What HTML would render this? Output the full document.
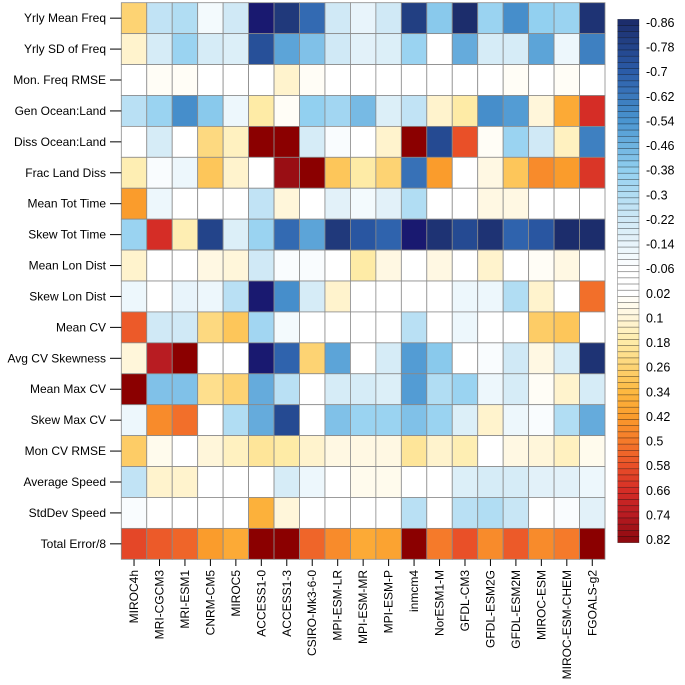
<!DOCTYPE html>
<html><head><meta charset="utf-8"><style>
html,body{margin:0;padding:0;background:#fff;}
svg{display:block;font-family:"Liberation Sans",sans-serif;}
</style></head><body>
<svg id="chart" width="685" height="685" viewBox="0 0 685 685" xmlns="http://www.w3.org/2000/svg"></svg>
<script>
const rowLabels=["Yrly Mean Freq","Yrly SD of Freq","Mon. Freq RMSE","Gen Ocean:Land","Diss Ocean:Land","Frac Land Diss","Mean Tot Time","Skew Tot Time","Mean Lon Dist","Skew Lon Dist","Mean CV","Avg CV Skewness","Mean Max CV","Skew Max CV","Mon CV RMSE","Average Speed","StdDev Speed","Total Error/8"];
const colLabels=["MIROC4h","MRI-CGCM3","MRI-ESM1","CNRM-CM5","MIROC5","ACCESS1-0","ACCESS1-3","CSIRO-Mk3-6-0","MPI-ESM-LR","MPI-ESM-MR","MPI-ESM-P","inmcm4","NorESM1-M","GFDL-CM3","GFDL-ESM2G","GFDL-ESM2M","MIROC-ESM","MIROC-ESM-CHEM","FGOALS-g2"];
const r1=[0.26,-0.26,-0.3,-0.1,-0.22,-0.95,-0.82,-0.66,-0.22,-0.14,-0.22,-0.8,-0.4,-0.86,-0.36,-0.56,-0.38,-0.36,-0.84];
const r2=[0.12,-0.2,-0.36,-0.2,-0.18,-0.74,-0.5,-0.42,-0.22,-0.16,-0.18,-0.36,0,-0.48,-0.2,-0.2,-0.5,-0.12,-0.6];
const r3=[0,0.04,0.04,0,0,0,0.12,0.04,0,0,0,0,0,0,0,0.04,0,0.04,0];
const r4=[-0.28,-0.36,-0.56,-0.4,-0.12,0.18,0.04,-0.38,-0.34,-0.44,-0.18,-0.26,0.12,0.18,-0.56,-0.52,0.1,0.38,0.66];
const r5=[0,-0.2,0,0.24,0.14,0.9,0.9,-0.2,-0.08,0,0.12,0.9,-0.76,0.58,0.04,-0.36,-0.22,0.14,-0.6];
const r6=[0.16,-0.08,-0.12,0.3,0.12,0,0.8,0.9,0.3,0.18,0.26,-0.64,0.42,0,0.08,0.3,0.46,0.42,0.64];
const r7=[0.42,-0.12,0,0,0.02,-0.26,0.1,0,-0.16,-0.1,-0.16,-0.3,0,0,0.08,0.08,0,0,0];
const r8=[-0.36,0.66,0.16,-0.78,-0.18,-0.36,-0.66,-0.5,-0.82,-0.72,-0.68,-0.95,-0.84,-0.76,-0.84,-0.68,-0.72,-0.86,-0.86];
const r9=[0.12,0,0,0.08,0.1,-0.22,-0.08,-0.08,0.02,0.18,0.08,0,0.08,0,0.12,0,0.04,0.08,0];
const r10=[-0.12,0,-0.14,-0.12,-0.28,-0.95,-0.56,-0.2,0.12,0,0,0,0,-0.12,-0.12,-0.3,0.12,0,0.52];
const r11=[0.56,-0.22,-0.22,0.24,0.3,-0.34,-0.1,0,0,0,0,-0.28,0,-0.12,0.02,0,0.28,0.3,0];
const r12=[0.1,0.74,0.9,0,0,-0.95,-0.68,0.26,-0.5,0,-0.2,-0.52,-0.4,0,-0.08,-0.22,0.08,-0.2,-0.84];
const r13=[0.9,-0.42,-0.42,0.22,0.26,-0.48,-0.28,0,-0.2,-0.2,-0.18,-0.52,-0.3,-0.36,-0.12,-0.2,0.04,0.12,-0.2];
const r14=[-0.12,0.46,0.52,0,-0.3,-0.48,-0.76,0,-0.42,-0.36,-0.36,-0.42,-0.36,-0.18,0.12,-0.12,-0.08,-0.3,-0.48];
const r15=[0.28,0.06,0,0.1,0.14,0.2,0.18,0.12,0.08,0.08,0.08,0.2,0.12,0.16,0.02,0.08,0.1,0.14,0.06];
const r16=[-0.26,0.12,0.12,0,0,0,-0.2,-0.12,0.02,0.06,0.06,0,0,-0.18,-0.2,-0.2,-0.16,-0.16,-0.12];
const r17=[-0.08,0,0,0,0,0.36,0.1,0,0,0,0,-0.28,0,-0.28,-0.3,-0.24,0,-0.08,-0.16];
const r18=[0.6,0.56,0.54,0.42,0.38,0.9,0.9,0.54,0.46,0.38,0.4,0.9,0.5,0.58,0.46,0.56,0.46,0.5,0.9];
const values=[r1,r2,r3,r4,r5,r6,r7,r8,r9,r10,r11,r12,r13,r14,r15,r16,r17,r18];
const barTicks=["-0.86","-0.78","-0.7","-0.62","-0.54","-0.46","-0.38","-0.3","-0.22","-0.14","-0.06","0.02","0.1","0.18","0.26","0.34","0.42","0.5","0.58","0.66","0.74","0.82"];

const stops=[[-0.86,"#1c2d6c"],[-0.7,"#2b5ca8"],[-0.54,"#4a95d0"],[-0.38,"#92d0f0"],[-0.22,"#d0e9f6"],[-0.06,"#ffffff"],[0.02,"#ffffff"],[0.1,"#fff6da"],[0.18,"#feeba6"],[0.26,"#fdd373"],[0.34,"#fdb840"],[0.42,"#fa9c2c"],[0.5,"#f57a2a"],[0.58,"#e95028"],[0.66,"#d52d26"],[0.74,"#b81c22"],[0.82,"#8f0a10"]];
function hex(h){return [parseInt(h.substr(1,2),16),parseInt(h.substr(3,2),16),parseInt(h.substr(5,2),16)];}
function color(v){
  if(v<-0.87) return "#191970";
  if(v>0.83) return "#8b0000";
  if(v<=stops[0][0]) return stops[0][1];
  for(let i=1;i<stops.length;i++){
    if(v<=stops[i][0]){
      const a=hex(stops[i-1][1]),b=hex(stops[i][1]);const t=(v-stops[i-1][0])/(stops[i][0]-stops[i-1][0]);
      return "rgb("+a.map((x,k)=>Math.round(x+(b[k]-x)*t)).join(",")+")";
    }
  }
  return stops[stops.length-1][1];
}
const NS="http://www.w3.org/2000/svg";
const svg=document.getElementById("chart");
function mk(tag,attrs,parent){const e=document.createElementNS(NS,tag);for(const k in attrs)e.setAttribute(k,attrs[k]);(parent||svg).appendChild(e);return e;}
const X0=121.3,Y0=2.7,CW=(605-121.3)/19,RH=(559.3-2.7)/18;
function xPos(c){return X0+c*CW;}
function yPos(r){return Y0+r*RH;}

const cells=mk("g",{});


values.forEach((row,r)=>row.forEach((v,c)=>{
  const rc=mk("rect",{x:xPos(c),y:yPos(r),width:CW,height:RH,fill:color(v),stroke:"#8a8a8a","stroke-width":0.8},cells);
  
  
}));
const yax=mk("g",{"font-size":"12",fill:"#000"});


rowLabels.forEach((l,r)=>{
  const cy=yPos(r)+RH/2;
  mk("line",{x1:110,x2:X0,y1:cy,y2:cy,stroke:"#000","stroke-width":1},yax);
  const t=mk("text",{x:106,y:cy+4,"text-anchor":"end"},yax);t.textContent=l;
  
  
});
const xax=mk("g",{"font-size":"12",fill:"#000"});


colLabels.forEach((l,c)=>{
  const cx=xPos(c)+CW/2;
  mk("line",{x1:cx,x2:cx,y1:559.3,y2:566,stroke:"#000","stroke-width":1},xax);
  const t=mk("text",{x:0,y:0,"text-anchor":"end",transform:"translate("+(cx+4)+",570) rotate(-90)"},xax);t.textContent=l;
  
  
});
const bar=mk("g",{});


const BT=19.3,BB=542.7,N=85,SH=(BB-BT)/N;
for(let i=0;i<N;i++){
  const v=-0.86+0.02*i;
  const s=mk("rect",{x:617.7,y:BT+i*SH,width:21.3,height:SH,fill:color(v),stroke:"rgba(0,0,0,0.45)","stroke-width":0.6},bar);
  
  
}
barTicks.forEach(l=>{
  const v=parseFloat(l);const i=Math.round((v+0.86)/0.02);
  const t=mk("text",{x:646,y:BT+(i+0.5)*SH+4.5,"font-size":"12.5",fill:"#000"},bar);t.textContent=l;
  
  
});
</script>
</body></html>
